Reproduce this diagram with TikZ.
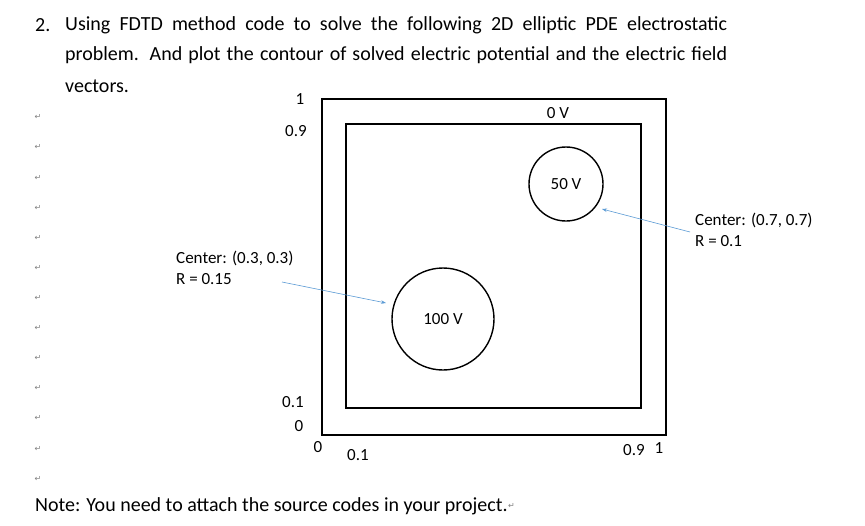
\documentclass[tikz,border=0pt]{standalone}
\usepackage{fontspec}
\setmainfont{Carlito}
\newfontfamily\symfont{DejaVu Sans}
\usetikzlibrary{arrows.meta}
\begin{document}
\begin{tikzpicture}[x=1pt,y=-1pt,
  lbl/.style={inner sep=0pt,font=\fontsize{17}{19}\selectfont},
  body/.style={inner sep=0pt,font=\fontsize{20}{23}\selectfont},
  ret/.style={inner sep=0pt,text=gray,font=\symfont\fontsize{8}{9}\selectfont},
  box/.style={draw,line width=1.6pt},
  ptr/.style={draw={rgb,255:red,91;green,155;blue,213},line width=0.6pt,-{Stealth[length=5pt,width=3.5pt]}}]
\useasboundingbox[fill=white] (0,0) rectangle (865,525);
\node[body,anchor=west] (l1) at (35,25) {2.};
\node[body,anchor=west] (t1) at (65,25) {\makebox[662pt][s]{Using FDTD method code to solve the following 2D elliptic PDE electrostatic}};
\node[body,anchor=west] (t2) at (65,55) {\makebox[662pt][s]{problem. And plot the contour of solved electric potential and the electric field}};
\node[body,anchor=west] (t3) at (65,86) {vectors.};
\draw[box] (322,99) rectangle (666,435);
\draw[box] (346,124) rectangle (641,408);
\node[lbl] (zv) at (558,113) {0 V};
\node[box,circle,minimum size=74pt,line width=1.4pt] (c50) at (566,184) {};
\node[lbl] at (c50) {50 V};
\node[box,circle,minimum size=102pt,line width=1.4pt] (c100) at (443,319) {};
\node[lbl] at (c100) {100 V};
\node[lbl] at (300,99) {1};
\node[lbl] at (296,131) {0.9};
\node[lbl] at (293,402) {0.1};
\node[lbl] at (299,426) {0};
\node[lbl] at (318,447) {0};
\node[lbl] at (358,455) {0.1};
\node[lbl] at (634,450) {0.9};
\node[lbl] at (659,448) {1};
\node[lbl,anchor=west] (a1) at (176,258) {Center: (0.3, 0.3)};
\node[lbl,anchor=west] (a2) at (176,279) {R = 0.15};
\node[lbl,anchor=west] (b1) at (695,220) {Center: (0.7, 0.7)};
\node[lbl,anchor=west] (b2) at (695,241) {R = 0.1};
\coordinate (p1) at (282,282);
\coordinate (p2) at (386,303);
\coordinate (q1) at (690,232);
\coordinate (q2) at (602,209);
\draw[ptr] (p1) -- (p2);
\draw[ptr] (q1) -- (q2);
\foreach \y in {117,147,178,208,238,268,298,328,358,388,418,449,479}
  \node[ret] at (38,\y) {↵};
\node[body,anchor=west] (note) at (35,506) {Note: You need to attach the source codes in your project.};
\node[ret,anchor=west] at (note.east) {↵};
\end{tikzpicture}
\end{document}
